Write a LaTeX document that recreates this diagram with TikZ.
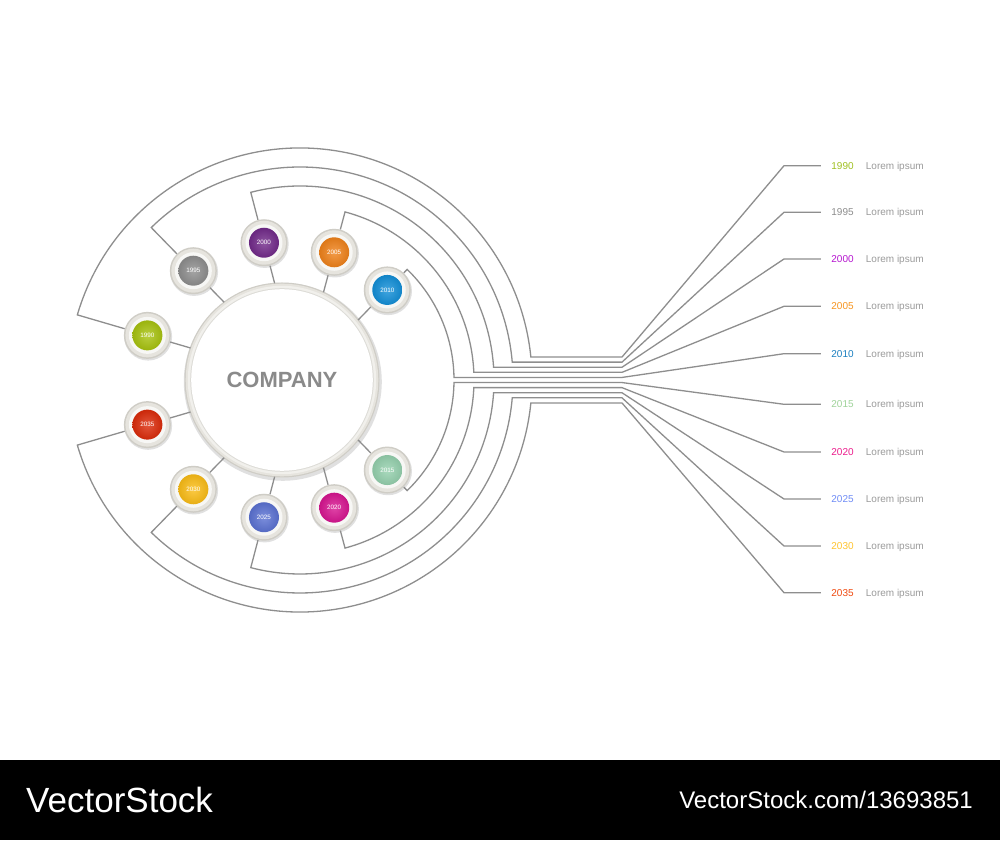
\documentclass[tikz,border=0pt]{standalone}
\usepackage{fontspec}
\setmainfont{Liberation Sans}
\usetikzlibrary{calc}
\definecolor{linegray}{HTML}{8E8E8E}
\definecolor{compgray}{HTML}{8A8A8A}
\definecolor{loremgray}{HTML}{9B9B9B}
\definecolor{ringdark}{HTML}{CFCDC6}
\definecolor{ringmid}{HTML}{E6E4DE}
\definecolor{ringlight}{HTML}{F1F0EC}
\definecolor{ringin}{HTML}{F7F7F5}
% ball colours
\definecolor{b1990}{HTML}{A8C30F}
\definecolor{b1995}{HTML}{8E8E8E}
\definecolor{b2000}{HTML}{722A8A}
\definecolor{b2005}{HTML}{F0821A}
\definecolor{b2010}{HTML}{128FD8}
\definecolor{b2015}{HTML}{95D1AE}
\definecolor{b2020}{HTML}{D81591}
\definecolor{b2025}{HTML}{5B72D3}
\definecolor{b2030}{HTML}{FBBD16}
\definecolor{b2035}{HTML}{DC2B0A}
% year text colours
\definecolor{t1990}{HTML}{A0C020}
\definecolor{t1995}{HTML}{8C8C8C}
\definecolor{t2000}{HTML}{B616D0}
\definecolor{t2005}{HTML}{F7941E}
\definecolor{t2010}{HTML}{1A7FC0}
\definecolor{t2015}{HTML}{9FD39A}
\definecolor{t2020}{HTML}{EC1C8C}
\definecolor{t2025}{HTML}{6F8CF6}
\definecolor{t2030}{HTML}{FFC42E}
\definecolor{t2035}{HTML}{F04A10}
\begin{document}
\begin{tikzpicture}[x=1pt,y=1pt,
  conn/.style={draw=linegray, line width=1.3pt, line join=miter},
  ballnode/.style={circle, minimum size=47pt, inner sep=0pt, text=white, font=\fontsize{6.3}{6.3}\selectfont},
  yearlbl/.style={minimum width=43pt, inner sep=0pt, text height=7.2pt, text depth=0pt, font=\fontsize{10}{10}\selectfont},
  lorem/.style={anchor=west, inner sep=0pt, text height=7.2pt, text depth=0pt, text=loremgray, font=\fontsize{10}{10}\selectfont},
  footer/.style={text=white, inner sep=0pt}]
\useasboundingbox (0,0) rectangle (1000,840);
\fill[white] (0,0) rectangle (1000,840);
% footer band
\fill[black] (0,0) rectangle (1000,80);
\node[footer, anchor=west, font=\fontsize{35}{35}\selectfont] (vs) at (26,40) {VectorStock};
\node[footer, anchor=east, font=\fontsize{24}{24}\selectfont] (vsurl) at (973,40) {VectorStock.com/13693851};
% centres
\coordinate (ac) at (300,460);
\coordinate (mc) at (282,460);
% main circle
\fill[black!12] ($(mc)+(0.8,-1.8)$) circle (99);
\fill[ringdark] (mc) circle (97.5);
\fill[ringmid] (mc) circle (96.3);
\fill[ringlight] (mc) circle (94.2);
\fill[ringdark!70] (mc) circle (91.8);
\fill[white] (mc) circle (90.8);
\node[circle, minimum size=195pt, inner sep=0pt, text=compgray, font=\bfseries\fontsize{22}{22}\selectfont] (company) at (mc) {COMPANY};
% timeline items
\foreach \nm/\ang/\dis/\rad/\off/\ly in {
  1990/163.7/159/232/22.95/674.3,
  1995/134.3/152.7/213/17.85/627.7,
  2000/104.7/141.9/194/12.75/581,
  2005/75.0/132.2/174/7.65/533.7,
  2010/45.9/125.4/154/2.55/486.3,
  2015/-45.9/125.4/154/-2.55/435.7,
  2020/-75.0/132.2/174/-7.65/388,
  2025/-104.7/141.9/194/-12.75/341,
  2030/-134.3/152.7/213/-17.85/294,
  2035/-163.7/159/232/-22.95/247.3}{
  \coordinate (c\nm) at ($(ac)+(\ang:\dis)$);
  \fill[black!12] ($(c\nm)+(0.7,-1.2)$) circle (24);
  \fill[ringdark] (c\nm) circle (23.5);
  \fill[ringmid] (c\nm) circle (22);
  \fill[ringin] (c\nm) circle (18.5);
  \shade[inner color=b\nm!80!white, outer color=b\nm!92!black] (c\nm) circle (15);
  \node[ballnode] (b\nm) at (c\nm) {\nm};
  \coordinate (i\nm) at ($(ac)+(\ang:{-18*cos(\ang)+sqrt(324*cos(\ang)^2+9085)})$);
  \coordinate (s\nm) at ($(ac)+(\ang:\rad)$);
  \coordinate (h\nm) at (622,{460+\off});
  \coordinate (k\nm) at (784,\ly);
  \node[yearlbl, text=t\nm] (y\nm) at (842.5,\ly) {\nm};
  \node[lorem] (l\nm) at (865.7,\ly) {Lorem ipsum};
  \draw[conn] (b\nm) -- (i\nm);
  \draw[conn] (b\nm) -- (s\nm) arc[start angle=\ang, end angle={asin(\off/\rad)}, radius=\rad] -- (h\nm) -- (k\nm) -- (y\nm.west);
}
\end{tikzpicture}
\end{document}
